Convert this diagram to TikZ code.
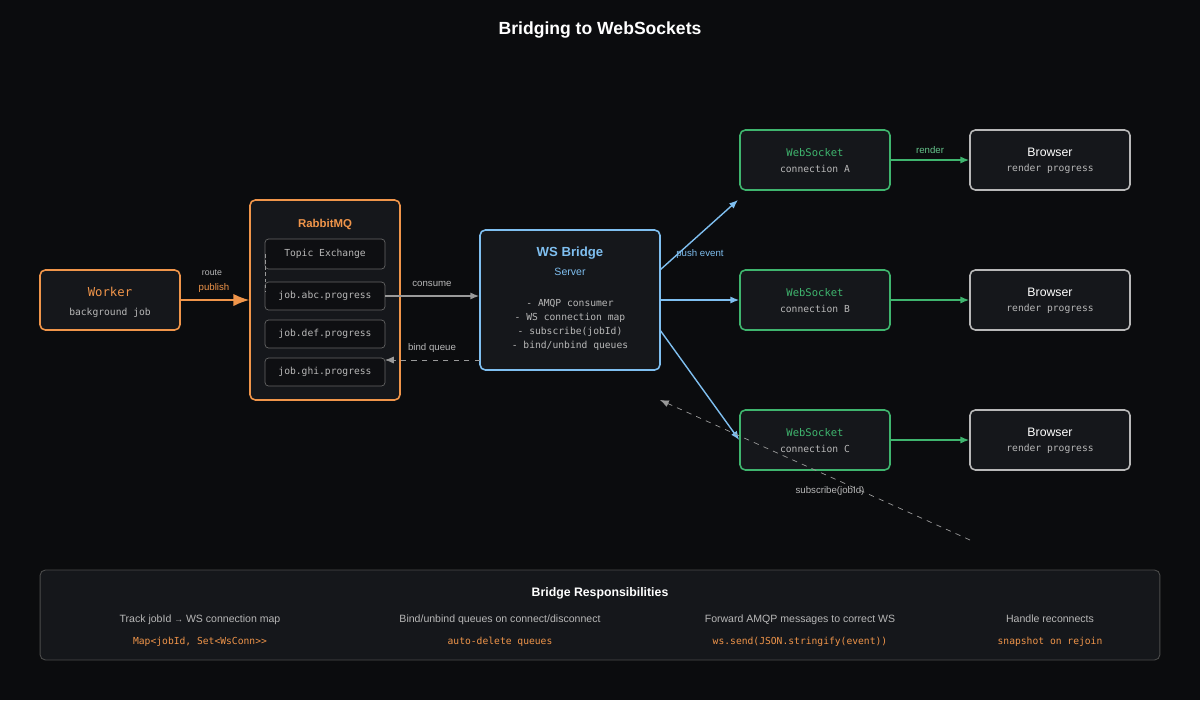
\documentclass[tikz,border=0pt]{standalone}
\usepackage{fontspec}
\setmainfont{Liberation Sans}
\setmonofont{DejaVu Sans Mono}
\usetikzlibrary{arrows.meta}
\definecolor{BgDark}{HTML}{0B0C0E}
\definecolor{BoxFill}{HTML}{15171B}
\definecolor{InnerFill}{HTML}{0E0F12}
\definecolor{RabbitOrange}{HTML}{F0954A}
\definecolor{SocketGreen}{HTML}{3FB56E}
\definecolor{BridgeBlue}{HTML}{7FBFF0}
\definecolor{LineGray}{HTML}{9A9A9A}
\definecolor{TextGray}{HTML}{B8B8B8}
\tikzset{
  box/.style={draw,rounded corners=3pt,fill=BoxFill,line width=0.9pt,minimum width=#1},
  inner/.style={draw=black!60,fill=InnerFill,rounded corners=2pt,minimum width=2.4cm,minimum height=0.6cm,
    text=TextGray,font=\ttfamily\fontsize{5.5}{6}\selectfont},
  lbl/.style={font=\fontsize{5.5}{6}\selectfont,text=TextGray},
  mono/.style={font=\ttfamily\fontsize{5.5}{6}\selectfont,text=TextGray},
  tip/.style={-{Latex[length=5pt,width=4pt]}}
}
\begin{document}
\begin{tikzpicture}[x=0.02cm,y=-0.02cm]
  \fill[BgDark] (0,0) rectangle (1200,700);
  \useasboundingbox (0,0) rectangle (1200,700);
  \node[font=\bfseries\fontsize{10}{12}\selectfont,white] (title) at (600,30) {Bridging to WebSockets};

  % worker and broker
  \node[box=2.8cm,minimum height=1.2cm,draw=RabbitOrange] (worker) at (110,300) {};
  \node[font=\ttfamily\fontsize{7}{8}\selectfont,RabbitOrange] (workert) at (110,292) {Worker};
  \node[mono] (workers) at (110,313) {background job};
  \node[box=3cm,minimum height=4cm,draw=RabbitOrange] (rabbit) at (325,300) {};
  \node[font=\bfseries\fontsize{6.5}{8}\selectfont,RabbitOrange] (rabbitt) at (325,224) {RabbitMQ};
  \node[inner] (topic) at (325,254) {Topic Exchange};
  \node[inner,minimum height=0.56cm] (qabc) at (325,296) {job.abc.progress};
  \node[inner,minimum height=0.56cm] (qdef) at (325,334) {job.def.progress};
  \node[inner,minimum height=0.56cm] (qghi) at (325,372) {job.ghi.progress};
  \draw[LineGray,dash pattern=on 2pt off 1.5pt] (265,254) -- (265,292);

  % bridge
  \node[box=3.6cm,minimum height=2.8cm,draw=BridgeBlue] (bridge) at (570,300) {};
  \node[font=\bfseries\fontsize{7.5}{9}\selectfont,BridgeBlue] (bridget) at (570,253) {WS Bridge};
  \node[font=\fontsize{6}{7}\selectfont,BridgeBlue] (bridges) at (570,272) {Server};
  \node[mono,align=center] (bridgel) at (570,325) {- AMQP consumer\\[2pt]- WS connection map\\[2pt]- subscribe(jobId)\\[2pt]- bind/unbind queues};

  % sockets and browsers
  \foreach \c/\y in {A/160,B/300,C/440}{
    \node[box=3cm,minimum height=1.2cm,draw=SocketGreen] (ws\c) at (815,\y) {};
    \node[font=\ttfamily\fontsize{6}{7}\selectfont,SocketGreen] at (815,\y-7) {WebSocket};
    \node[mono] at (815,\y+9) {connection \c};
    \node[box=3.2cm,minimum height=1.2cm,draw=LineGray!70!white] (br\c) at (1050,\y) {};
    \node[font=\fontsize{7}{8}\selectfont,white] at (1050,\y-8) {Browser};
    \node[mono] at (1050,\y+9) {render progress};
  }

  % connectors
  \draw[-{Latex[length=9pt,width=7pt]},RabbitOrange,thick] (worker) -- (rabbit);
  \node[lbl,font=\fontsize{5}{6}\selectfont] at (212,273) {route};
  \node[lbl,RabbitOrange] at (214,288) {publish};
  \draw[tip,LineGray,thick] (qabc.east) -- (bridge.west |- qabc.east);
  \node[lbl] at (432,284) {consume};
  \draw[tip,LineGray,dashed] (480,360) -- (385,360);
  \node[lbl] at (432,348) {bind queue};
  \coordinate (wsAin) at (738,200);
  \draw[tip,BridgeBlue,thick] (660,270) -- (wsAin);
  \draw[tip,BridgeBlue,thick] (660,300) -- (wsB.west);
  \draw[tip,BridgeBlue,thick] (660,330) -- (wsC.west);
  \node[lbl,BridgeBlue] at (700,254) {push event};
  \draw[tip,SocketGreen,thick] (wsA) -- (brA) node[midway,above,lbl,SocketGreen!80!white] {render};
  \draw[tip,SocketGreen,thick] (wsB) -- (brB);
  \draw[tip,SocketGreen,thick] (wsC) -- (brC);
  \coordinate (client) at (970,540);
  \draw[tip,LineGray,dashed] (client) -- (660,400);
  \node[lbl] at (830,491) {subscribe(jobId)};

  % responsibilities panel
  \node[box=22.4cm,minimum height=1.8cm,draw=black!70,line width=0.5pt] (panel) at (600,615) {};
  \node[font=\bfseries\fontsize{7}{8}\selectfont,white] (panelt) at (600,593) {Bridge Responsibilities};
  \foreach \x/\t/\m in {200/{Track jobId {\fontsize{5}{6}\selectfont→} WS connection map}/{Map<jobId, Set<WsConn>{}>},
    500/{Bind/unbind queues on connect/disconnect}/{auto-delete queues},
    800/{Forward AMQP messages to correct WS}/{ws.send(JSON.stringify(event))},
    1050/{Handle reconnects}/{snapshot on rejoin}}{
    \node[lbl,font=\fontsize{6}{7}\selectfont,anchor=base] at (\x,622) {\t};
    \node[mono,RabbitOrange] at (\x,642) {\m};
  }
\end{tikzpicture}
\end{document}
